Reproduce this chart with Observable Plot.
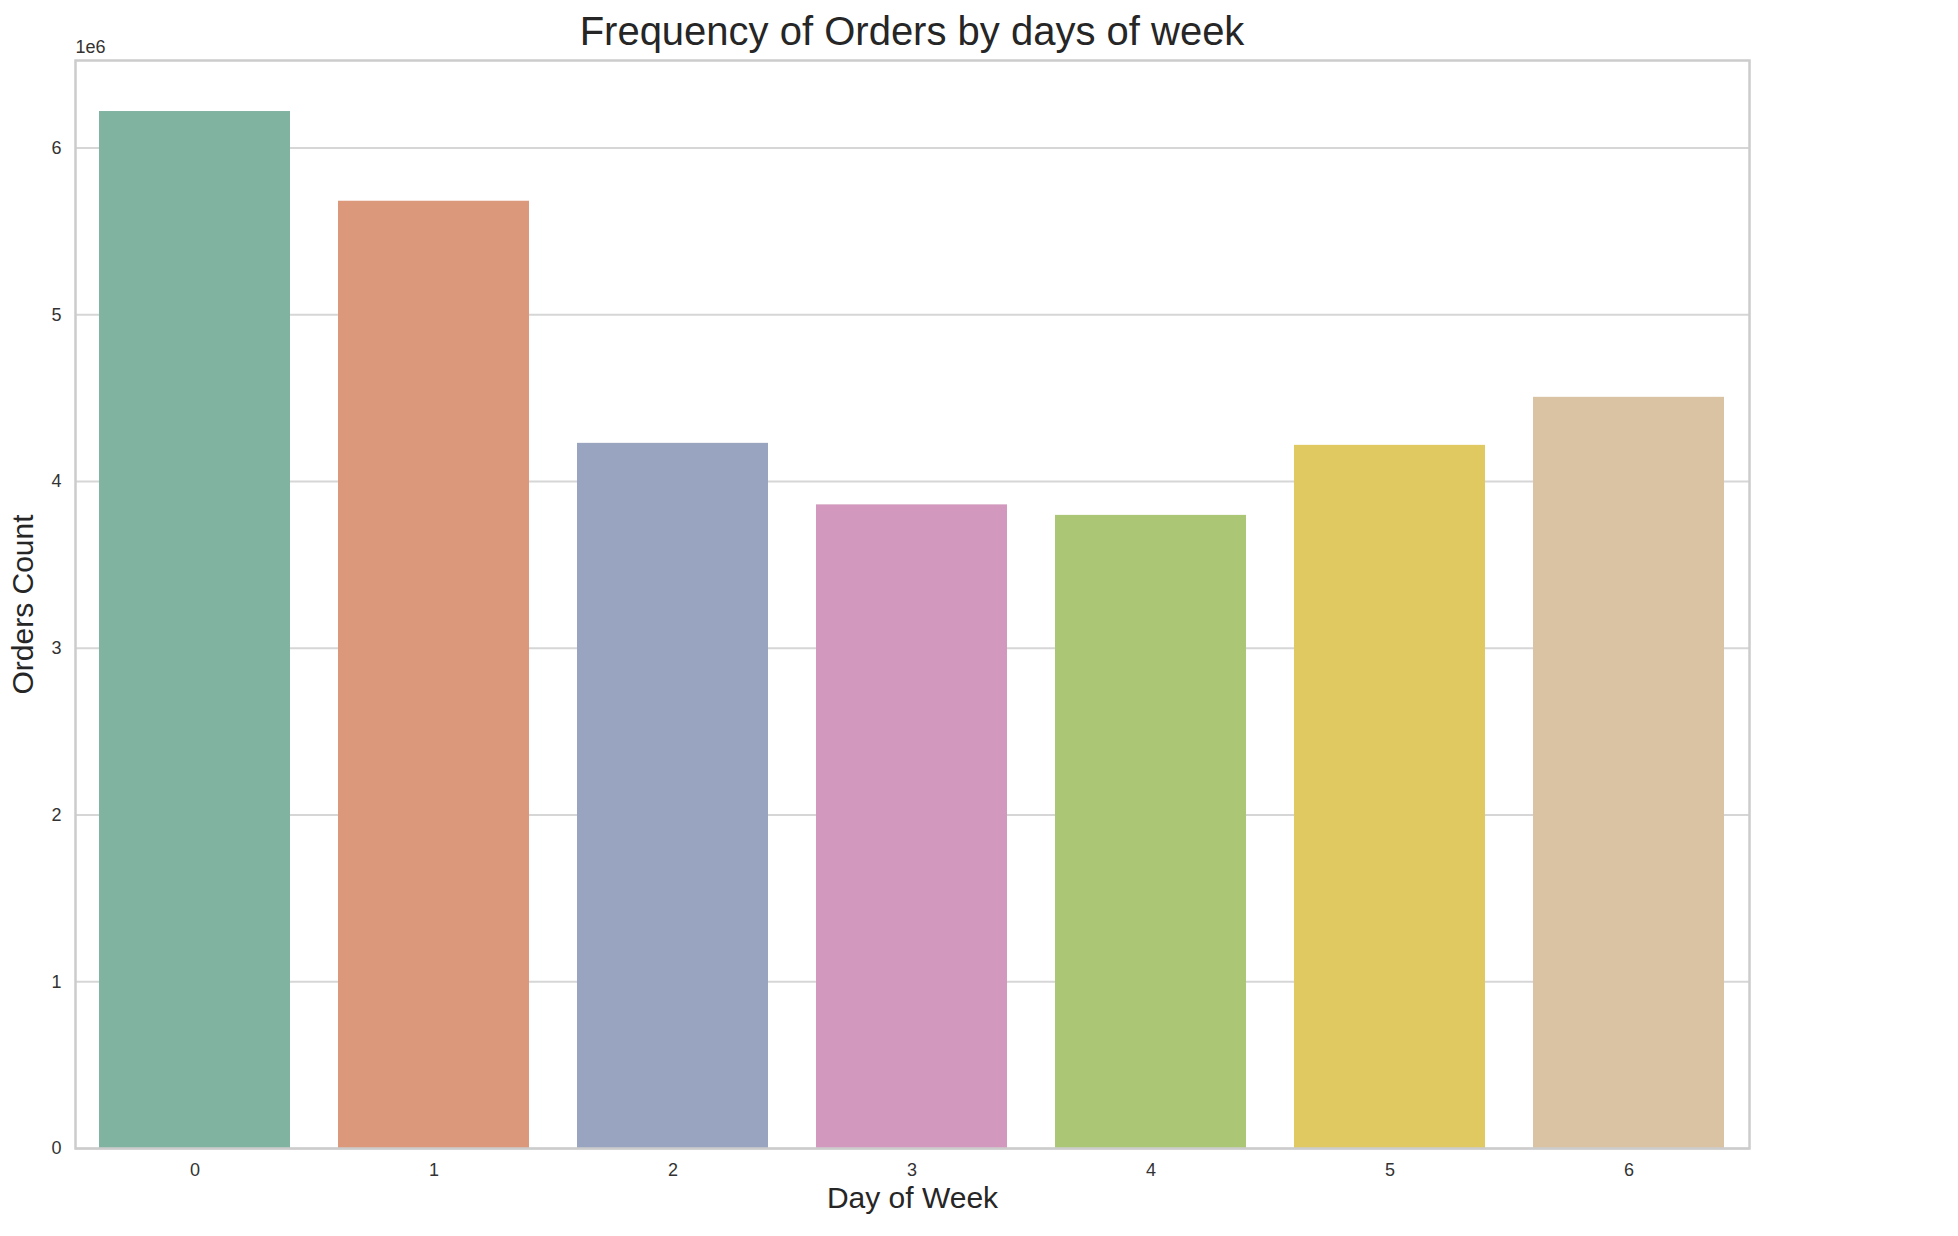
<!DOCTYPE html>
<html>
<head>
<meta charset="utf-8">
<script src="https://cdn.jsdelivr.net/npm/d3@7"></script>
<script src="https://cdn.jsdelivr.net/npm/@observablehq/plot@0.6"></script>
<style>
  html, body { margin: 0; padding: 0; background: #ffffff; }
  #wrap { width: 1958px; height: 1236px; overflow: hidden; }
  #title {
    position: relative; top: 12px; height: 38px; line-height: 38px;
    margin-left: 75px; width: 1674px; text-align: center;
    font-family: "Liberation Sans", Arial, sans-serif; font-size: 40px; color: #262626;
    white-space: nowrap;
  }
</style>
</head>
<body>
<div id="wrap">
  <div id="title">Frequency of Orders by days of week</div>
  <div id="chart"></div>
</div>
<script>
const days = ["0", "1", "2", "3", "4", "5", "6"];
const orders = [6219000, 5681000, 4229000, 3860000, 3797000, 4217000, 4505000];
const barColors = ["#80b3a0", "#dc987a", "#99a4c0", "#d298bd", "#abc775", "#e0c960", "#d9c3a2"];
const yTicks = [0, 1e6, 2e6, 3e6, 4e6, 5e6, 6e6];
const yMax = 6.525e6;
const xLabel = "Day of Week";
const yLabel = "Orders Count";
const yExponent = "1e6";

const data = days.map((d, i) => ({day: d, count: orders[i]}));

const chart = Plot.plot({
  width: 1958,
  height: 1198,
  marginTop: 22,
  marginBottom: 88,
  marginLeft: 75,
  marginRight: 209,
  style: {fontFamily: "'Liberation Sans', Arial, sans-serif", fontSize: "18px", color: "#333333", background: "#ffffff", overflow: "visible"},
  x: {domain: days, paddingInner: 0.2, paddingOuter: 0.1, label: null},
  y: {domain: [0, yMax], label: null},
  color: {domain: days, range: barColors},
  marks: [
    Plot.gridY(yTicks, {stroke: "#d6d6d6", strokeOpacity: 1, strokeWidth: 2}),
    Plot.barY(data, {x: "day", y: "count", fill: "day"}),
    Plot.frame({stroke: "#cccccc", strokeWidth: 2.5}),
    Plot.axisY(yTicks, {tickSize: 0, tickPadding: 14, tickFormat: d => String(d / 1e6), label: null}),
    Plot.axisX({tickSize: 0, tickPadding: 15, label: null}),
    Plot.text([yExponent], {frameAnchor: "top-left", textAnchor: "start", lineAnchor: "middle", dy: -13, fill: "#333333"}),
    Plot.text([yLabel], {frameAnchor: "left", rotate: -90, textAnchor: "middle", dx: -52, lineAnchor: "middle", fontSize: 30, fill: "#262626"}),
    Plot.text([xLabel], {frameAnchor: "bottom", dy: 50, lineAnchor: "middle", fontSize: 30, fill: "#262626"})
  ]
});
document.getElementById("chart").appendChild(chart);
</script>
</body>
</html>
